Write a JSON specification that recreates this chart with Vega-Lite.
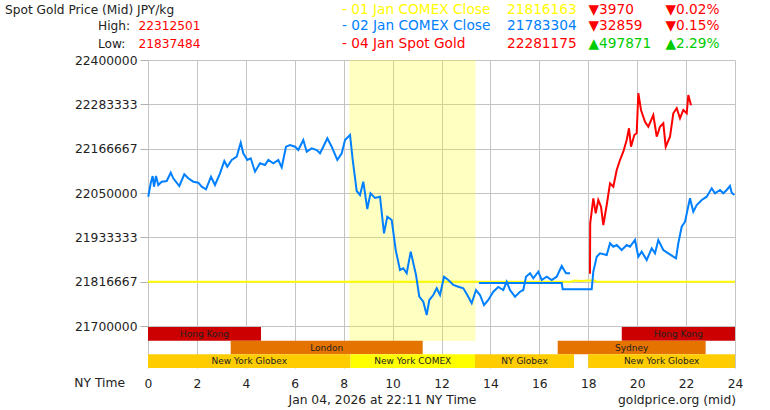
{
  "$schema": "https://vega.github.io/schema/vega-lite/v6.json",
  "width": 587,
  "height": 308,
  "autosize": {"type": "none"},
  "padding": {"left": 148, "top": 60, "right": 35, "bottom": 42},
  "background": "white",
  "datasets": {
    "prices": [
      {"series": "01 Jan COMEX Close", "hour": 0, "price": 21816163},
      {"series": "01 Jan COMEX Close", "hour": 17.3, "price": 21816163},
      {"series": "01 Jan COMEX Close", "hour": 17.45, "price": 21819500},
      {"series": "01 Jan COMEX Close", "hour": 17.7, "price": 21818500},
      {"series": "01 Jan COMEX Close", "hour": 18.0, "price": 21820000},
      {"series": "01 Jan COMEX Close", "hour": 18.25, "price": 21819500},
      {"series": "01 Jan COMEX Close", "hour": 18.35, "price": 21816163},
      {"series": "01 Jan COMEX Close", "hour": 24, "price": 21816163},

      {"series": "02 Jan COMEX Close", "hour": 0.01, "price": 22040260},
      {"series": "02 Jan COMEX Close", "hour": 0.11, "price": 22075524},
      {"series": "02 Jan COMEX Close", "hour": 0.19, "price": 22094734},
      {"series": "02 Jan COMEX Close", "hour": 0.245, "price": 22066576},
      {"series": "02 Jan COMEX Close", "hour": 0.327, "price": 22094734},
      {"series": "02 Jan COMEX Close", "hour": 0.42, "price": 22071050},
      {"series": "02 Jan COMEX Close", "hour": 0.56, "price": 22079734},
      {"series": "02 Jan COMEX Close", "hour": 0.765, "price": 22081576},
      {"series": "02 Jan COMEX Close", "hour": 0.93, "price": 22103419},
      {"series": "02 Jan COMEX Close", "hour": 1.034, "price": 22088682},
      {"series": "02 Jan COMEX Close", "hour": 1.28, "price": 22068418},
      {"series": "02 Jan COMEX Close", "hour": 1.484, "price": 22099208},
      {"series": "02 Jan COMEX Close", "hour": 1.648, "price": 22088682},
      {"series": "02 Jan COMEX Close", "hour": 1.852, "price": 22079734},
      {"series": "02 Jan COMEX Close", "hour": 2.057, "price": 22077103},
      {"series": "02 Jan COMEX Close", "hour": 2.196, "price": 22066576},
      {"series": "02 Jan COMEX Close", "hour": 2.371, "price": 22059734},
      {"series": "02 Jan COMEX Close", "hour": 2.576, "price": 22092892},
      {"series": "02 Jan COMEX Close", "hour": 2.739, "price": 22071050},
      {"series": "02 Jan COMEX Close", "hour": 2.944, "price": 22101840},
      {"series": "02 Jan COMEX Close", "hour": 3.12, "price": 22134208},
      {"series": "02 Jan COMEX Close", "hour": 3.242, "price": 22119208},
      {"series": "02 Jan COMEX Close", "hour": 3.422, "price": 22136840},
      {"series": "02 Jan COMEX Close", "hour": 3.627, "price": 22145524},
      {"series": "02 Jan COMEX Close", "hour": 3.79, "price": 22182367},
      {"series": "02 Jan COMEX Close", "hour": 3.896, "price": 22154472},
      {"series": "02 Jan COMEX Close", "hour": 4.06, "price": 22136840},
      {"series": "02 Jan COMEX Close", "hour": 4.2, "price": 22141314},
      {"series": "02 Jan COMEX Close", "hour": 4.375, "price": 22106050},
      {"series": "02 Jan COMEX Close", "hour": 4.579, "price": 22128156},
      {"series": "02 Jan COMEX Close", "hour": 4.784, "price": 22123682},
      {"series": "02 Jan COMEX Close", "hour": 4.919, "price": 22136840},
      {"series": "02 Jan COMEX Close", "hour": 5.123, "price": 22128156},
      {"series": "02 Jan COMEX Close", "hour": 5.328, "price": 22136840},
      {"series": "02 Jan COMEX Close", "hour": 5.467, "price": 22117629},
      {"series": "02 Jan COMEX Close", "hour": 5.642, "price": 22171840},
      {"series": "02 Jan COMEX Close", "hour": 5.806, "price": 22176314},
      {"series": "02 Jan COMEX Close", "hour": 6.01, "price": 22171840},
      {"series": "02 Jan COMEX Close", "hour": 6.145, "price": 22163156},
      {"series": "02 Jan COMEX Close", "hour": 6.35, "price": 22189472},
      {"series": "02 Jan COMEX Close", "hour": 6.489, "price": 22158682},
      {"series": "02 Jan COMEX Close", "hour": 6.693, "price": 22167630},
      {"series": "02 Jan COMEX Close", "hour": 6.898, "price": 22163156},
      {"series": "02 Jan COMEX Close", "hour": 7.033, "price": 22154472},
      {"series": "02 Jan COMEX Close", "hour": 7.168, "price": 22171840},
      {"series": "02 Jan COMEX Close", "hour": 7.331, "price": 22193946},
      {"series": "02 Jan COMEX Close", "hour": 7.511, "price": 22171840},
      {"series": "02 Jan COMEX Close", "hour": 7.74, "price": 22136840},
      {"series": "02 Jan COMEX Close", "hour": 7.92, "price": 22154472},
      {"series": "02 Jan COMEX Close", "hour": 8.055, "price": 22189472},
      {"series": "02 Jan COMEX Close", "hour": 8.26, "price": 22202630},
      {"series": "02 Jan COMEX Close", "hour": 8.37, "price": 22136840},
      {"series": "02 Jan COMEX Close", "hour": 8.533, "price": 22055260},
      {"series": "02 Jan COMEX Close", "hour": 8.668, "price": 22044734},
      {"series": "02 Jan COMEX Close", "hour": 8.803, "price": 22079734},
      {"series": "02 Jan COMEX Close", "hour": 8.966, "price": 22007892},
      {"series": "02 Jan COMEX Close", "hour": 9.097, "price": 22049208},
      {"series": "02 Jan COMEX Close", "hour": 9.281, "price": 22036839},
      {"series": "02 Jan COMEX Close", "hour": 9.486, "price": 22040260},
      {"series": "02 Jan COMEX Close", "hour": 9.649, "price": 21943944},
      {"series": "02 Jan COMEX Close", "hour": 9.784, "price": 21987628},
      {"series": "02 Jan COMEX Close", "hour": 9.964, "price": 21978944},
      {"series": "02 Jan COMEX Close", "hour": 10.128, "price": 21899996},
      {"series": "02 Jan COMEX Close", "hour": 10.303, "price": 21847364},
      {"series": "02 Jan COMEX Close", "hour": 10.438, "price": 21851838},
      {"series": "02 Jan COMEX Close", "hour": 10.577, "price": 21838680},
      {"series": "02 Jan COMEX Close", "hour": 10.741, "price": 21895522},
      {"series": "02 Jan COMEX Close", "hour": 10.958, "price": 21834206},
      {"series": "02 Jan COMEX Close", "hour": 11.092, "price": 21777100},
      {"series": "02 Jan COMEX Close", "hour": 11.256, "price": 21763942},
      {"series": "02 Jan COMEX Close", "hour": 11.395, "price": 21728942},
      {"series": "02 Jan COMEX Close", "hour": 11.501, "price": 21768416},
      {"series": "02 Jan COMEX Close", "hour": 11.665, "price": 21781574},
      {"series": "02 Jan COMEX Close", "hour": 11.804, "price": 21799206},
      {"series": "02 Jan COMEX Close", "hour": 11.939, "price": 21781574},
      {"series": "02 Jan COMEX Close", "hour": 12.102, "price": 21829732},
      {"series": "02 Jan COMEX Close", "hour": 12.278, "price": 21821048},
      {"series": "02 Jan COMEX Close", "hour": 12.483, "price": 21807890},
      {"series": "02 Jan COMEX Close", "hour": 12.687, "price": 21803416},
      {"series": "02 Jan COMEX Close", "hour": 12.892, "price": 21799206},
      {"series": "02 Jan COMEX Close", "hour": 13.055, "price": 21781574},
      {"series": "02 Jan COMEX Close", "hour": 13.235, "price": 21759732},
      {"series": "02 Jan COMEX Close", "hour": 13.411, "price": 21794732},
      {"series": "02 Jan COMEX Close", "hour": 13.574, "price": 21781574},
      {"series": "02 Jan COMEX Close", "hour": 13.738, "price": 21755258},
      {"series": "02 Jan COMEX Close", "hour": 13.914, "price": 21768416},
      {"series": "02 Jan COMEX Close", "hour": 14.118, "price": 21790258},
      {"series": "02 Jan COMEX Close", "hour": 14.323, "price": 21802627},
      {"series": "02 Jan COMEX Close", "hour": 14.527, "price": 21794732},
      {"series": "02 Jan COMEX Close", "hour": 14.666, "price": 21816574},
      {"series": "02 Jan COMEX Close", "hour": 14.801, "price": 21794732},
      {"series": "02 Jan COMEX Close", "hour": 15.006, "price": 21777100},
      {"series": "02 Jan COMEX Close", "hour": 15.21, "price": 21790258},
      {"series": "02 Jan COMEX Close", "hour": 15.345, "price": 21794732},
      {"series": "02 Jan COMEX Close", "hour": 15.455, "price": 21829732},
      {"series": "02 Jan COMEX Close", "hour": 15.619, "price": 21838680},
      {"series": "02 Jan COMEX Close", "hour": 15.754, "price": 21825522},
      {"series": "02 Jan COMEX Close", "hour": 15.958, "price": 21842890},
      {"series": "02 Jan COMEX Close", "hour": 16.097, "price": 21821048},
      {"series": "02 Jan COMEX Close", "hour": 16.301, "price": 21829732},
      {"series": "02 Jan COMEX Close", "hour": 16.506, "price": 21821048},
      {"series": "02 Jan COMEX Close", "hour": 16.71, "price": 21829732},
      {"series": "02 Jan COMEX Close", "hour": 16.915, "price": 21857890},
      {"series": "02 Jan COMEX Close", "hour": 17.09, "price": 21838680},
      {"series": "02 Jan COMEX Close", "hour": 17.254, "price": 21838680},

      {"series": "02 Jan overnight", "hour": 13.53, "price": 21813153},
      {"series": "02 Jan overnight", "hour": 16.915, "price": 21813153},
      {"series": "02 Jan overnight", "hour": 16.956, "price": 21796574},
      {"series": "02 Jan overnight", "hour": 18.141, "price": 21796574},
      {"series": "02 Jan overnight", "hour": 18.207, "price": 21842890},
      {"series": "02 Jan overnight", "hour": 18.346, "price": 21882364},
      {"series": "02 Jan overnight", "hour": 18.481, "price": 21891312},
      {"series": "02 Jan overnight", "hour": 18.755, "price": 21886838},
      {"series": "02 Jan overnight", "hour": 18.89, "price": 21917628},
      {"series": "02 Jan overnight", "hour": 19.025, "price": 21908680},
      {"series": "02 Jan overnight", "hour": 19.164, "price": 21913154},
      {"series": "02 Jan overnight", "hour": 19.368, "price": 21899996},
      {"series": "02 Jan overnight", "hour": 19.573, "price": 21913154},
      {"series": "02 Jan overnight", "hour": 19.707, "price": 21908680},
      {"series": "02 Jan overnight", "hour": 19.912, "price": 21926312},
      {"series": "02 Jan overnight", "hour": 20.047, "price": 21882364},
      {"series": "02 Jan overnight", "hour": 20.186, "price": 21895522},
      {"series": "02 Jan overnight", "hour": 20.39, "price": 21873680},
      {"series": "02 Jan overnight", "hour": 20.595, "price": 21904470},
      {"series": "02 Jan overnight", "hour": 20.73, "price": 21891312},
      {"series": "02 Jan overnight", "hour": 20.865, "price": 21926312},
      {"series": "02 Jan overnight", "hour": 21.069, "price": 21899996},
      {"series": "02 Jan overnight", "hour": 21.273, "price": 21891312},
      {"series": "02 Jan overnight", "hour": 21.478, "price": 21882364},
      {"series": "02 Jan overnight", "hour": 21.588, "price": 21878154},
      {"series": "02 Jan overnight", "hour": 21.682, "price": 21917628},
      {"series": "02 Jan overnight", "hour": 21.821, "price": 21961312},
      {"series": "02 Jan overnight", "hour": 21.956, "price": 21974470},
      {"series": "02 Jan overnight", "hour": 22.16, "price": 22036050},
      {"series": "02 Jan overnight", "hour": 22.295, "price": 22000786},
      {"series": "02 Jan overnight", "hour": 22.434, "price": 22018418},
      {"series": "02 Jan overnight", "hour": 22.639, "price": 22031576},
      {"series": "02 Jan overnight", "hour": 22.843, "price": 22040260},
      {"series": "02 Jan overnight", "hour": 23.048, "price": 22062366},
      {"series": "02 Jan overnight", "hour": 23.183, "price": 22049208},
      {"series": "02 Jan overnight", "hour": 23.387, "price": 22057892},
      {"series": "02 Jan overnight", "hour": 23.522, "price": 22049208},
      {"series": "02 Jan overnight", "hour": 23.661, "price": 22057892},
      {"series": "02 Jan overnight", "hour": 23.796, "price": 22068418},
      {"series": "02 Jan overnight", "hour": 23.865, "price": 22050787},
      {"series": "02 Jan overnight", "hour": 23.972, "price": 22044734},

      {"series": "04 Jan Spot Gold", "hour": 18.07, "price": 21837484},
      {"series": "04 Jan Spot Gold", "hour": 18.08, "price": 21970260},
      {"series": "04 Jan Spot Gold", "hour": 18.207, "price": 22036050},
      {"series": "04 Jan Spot Gold", "hour": 18.305, "price": 21996576},
      {"series": "04 Jan Spot Gold", "hour": 18.411, "price": 22031576},
      {"series": "04 Jan Spot Gold", "hour": 18.522, "price": 22013944},
      {"series": "04 Jan Spot Gold", "hour": 18.616, "price": 21965786},
      {"series": "04 Jan Spot Gold", "hour": 18.755, "price": 22018418},
      {"series": "04 Jan Spot Gold", "hour": 18.89, "price": 22075524},
      {"series": "04 Jan Spot Gold", "hour": 19.025, "price": 22066576},
      {"series": "04 Jan Spot Gold", "hour": 19.164, "price": 22110524},
      {"series": "04 Jan Spot Gold", "hour": 19.298, "price": 22136840},
      {"series": "04 Jan Spot Gold", "hour": 19.433, "price": 22158682},
      {"series": "04 Jan Spot Gold", "hour": 19.572, "price": 22189472},
      {"series": "04 Jan Spot Gold", "hour": 19.666, "price": 22220262},
      {"series": "04 Jan Spot Gold", "hour": 19.748, "price": 22171840},
      {"series": "04 Jan Spot Gold", "hour": 19.883, "price": 22202630},
      {"series": "04 Jan Spot Gold", "hour": 19.981, "price": 22207104},
      {"series": "04 Jan Spot Gold", "hour": 20.047, "price": 22312501},
      {"series": "04 Jan Spot Gold", "hour": 20.157, "price": 22268420},
      {"series": "04 Jan Spot Gold", "hour": 20.321, "price": 22237630},
      {"series": "04 Jan Spot Gold", "hour": 20.456, "price": 22224472},
      {"series": "04 Jan Spot Gold", "hour": 20.66, "price": 22255262},
      {"series": "04 Jan Spot Gold", "hour": 20.799, "price": 22198156},
      {"series": "04 Jan Spot Gold", "hour": 20.934, "price": 22224472},
      {"series": "04 Jan Spot Gold", "hour": 21.069, "price": 22233420},
      {"series": "04 Jan Spot Gold", "hour": 21.167, "price": 22171840},
      {"series": "04 Jan Spot Gold", "hour": 21.343, "price": 22198156},
      {"series": "04 Jan Spot Gold", "hour": 21.478, "price": 22259736},
      {"series": "04 Jan Spot Gold", "hour": 21.617, "price": 22272894},
      {"series": "04 Jan Spot Gold", "hour": 21.752, "price": 22246578},
      {"series": "04 Jan Spot Gold", "hour": 21.887, "price": 22268420},
      {"series": "04 Jan Spot Gold", "hour": 22.026, "price": 22259736},
      {"series": "04 Jan Spot Gold", "hour": 22.091, "price": 22307894},
      {"series": "04 Jan Spot Gold", "hour": 22.201, "price": 22281175}
    ],
    "sessions": [
      {"market": "Hong Kong", "lane": "Hong Kong", "open": 0, "close": 4.62},
      {"market": "Hong Kong", "lane": "Hong Kong", "open": 19.37, "close": 24},
      {"market": "London", "lane": "London / Sydney", "open": 3.38, "close": 11.23},
      {"market": "Sydney", "lane": "London / Sydney", "open": 16.75, "close": 22.8},
      {"market": "New York Globex", "lane": "New York", "open": 0, "close": 8.28},
      {"market": "New York COMEX", "lane": "New York", "open": 8.28, "close": 13.37},
      {"market": "NY Globex", "lane": "New York", "open": 13.37, "close": 17.42},
      {"market": "New York Globex", "lane": "New York", "open": 18, "close": 24}
    ],
    "comex": [{"from": 8.23, "to": 13.39}],
    "summary": [
      {"series": "01 Jan COMEX Close", "rank": 1, "close": 21816163, "change": "▼3970", "pct": "▼0.02%", "trend": "down"},
      {"series": "02 Jan COMEX Close", "rank": 2, "close": 21783304, "change": "▼32859", "pct": "▼0.15%", "trend": "down"},
      {"series": "04 Jan Spot Gold", "rank": 3, "close": 22281175, "change": "▲497871", "pct": "▲2.29%", "trend": "up"}
    ],
    "extremes": [
      {"stat": "High:", "rank": 2, "price": 22312501},
      {"stat": "Low:", "rank": 3, "price": 21837484}
    ],
    "captions": [
      {"role": "title", "text": "Spot Gold Price (Mid) JPY/kg"},
      {"role": "axis", "text": "NY Time"},
      {"role": "stamp", "text": "Jan 04, 2026 at 22:11 NY Time"},
      {"role": "source", "text": "goldprice.org (mid)"}
    ]
  },
  "layer": [
    {
      "layer": [
        {
          "layer": [
            {
              "data": {"name": "comex"},
              "mark": {"type": "rect", "color": "#ffff00", "opacity": 0.24},
              "encoding": {
                "x": {"field": "from", "type": "quantitative", "scale": {"domain": [0, 24], "nice": false, "zero": false}},
                "x2": {"field": "to"},
                "y": {"datum": 22400000, "type": "quantitative", "scale": {"domain": [21589474, 22400000], "nice": false, "zero": false}},
                "y2": {"datum": 21660500}
              }
            },
            {
              "data": {"name": "prices"},
              "transform": [{"filter": "datum.series === '01 Jan COMEX Close'"}],
              "mark": {"type": "line", "color": "#ffff00", "strokeWidth": 2},
              "encoding": {
                "x": {
                  "field": "hour",
                  "type": "quantitative",
                  "scale": {"domain": [0, 24], "nice": false, "zero": false},
                  "axis": {
                    "title": null,
                    "values": [0, 2, 4, 6, 8, 10, 12, 14, 16, 18, 20, 22, 24],
                    "format": "d",
                    "grid": true,
                    "ticks": false,
                    "tickSize": 0,
                    "domain": false,
                    "labelPadding": 19.3,
                    "labelBaseline": "alphabetic",
                    "labelFlush": false,
                    "labelOverlap": false,
                    "labelBound": false
                  }
                },
                "y": {
                  "field": "price",
                  "type": "quantitative",
                  "scale": {"domain": [21589474, 22400000], "nice": false, "zero": false},
                  "axis": {
                    "title": null,
                    "values": [21700000, 21816667, 21933333, 22050000, 22166667, 22283333, 22400000],
                    "format": "d",
                    "grid": true,
                    "ticks": true,
                    "tickSize": 8,
                    "tickColor": "#b0b0b0",
                    "domain": false,
                    "labelPadding": 3,
                    "labelFlush": false,
                    "labelOverlap": false,
                    "labelBound": false
                  }
                }
              }
            },
            {
              "data": {"name": "prices"},
              "transform": [{"filter": "datum.series === '02 Jan COMEX Close' || datum.series === '02 Jan overnight'"}],
              "mark": {"type": "line", "color": "#0080ff", "strokeWidth": 2},
              "encoding": {
                "x": {"field": "hour", "type": "quantitative"},
                "y": {"field": "price", "type": "quantitative"},
                "detail": {"field": "series"}
              }
            },
            {
              "data": {"name": "prices"},
              "transform": [{"filter": "datum.series === '04 Jan Spot Gold'"}],
              "mark": {"type": "line", "color": "#ff0000", "strokeWidth": 2},
              "encoding": {
                "x": {"field": "hour", "type": "quantitative"},
                "y": {"field": "price", "type": "quantitative"}
              }
            }
          ]
        },
        {
          "data": {"name": "sessions"},
          "encoding": {
            "y": {
              "field": "lane",
              "type": "nominal",
              "scale": {"type": "band", "domain": ["Hong Kong", "London / Sydney", "New York"], "range": [267, 308], "paddingInner": 0, "paddingOuter": 0},
              "axis": null
            }
          },
          "layer": [
            {
              "mark": {"type": "rect"},
              "encoding": {
                "x": {"field": "open", "type": "quantitative"},
                "x2": {"field": "close"},
                "color": {
                  "field": "market",
                  "type": "nominal",
                  "scale": {
                    "domain": ["Hong Kong", "London", "Sydney", "New York Globex", "New York COMEX", "NY Globex"],
                    "range": ["#cc0000", "#e57300", "#e57300", "#ffcc00", "#ffff00", "#ffcc00"]
                  },
                  "legend": null
                }
              }
            },
            {
              "transform": [{"calculate": "(datum.open + datum.close) / 2", "as": "mid"}],
              "mark": {"type": "text", "fontSize": 9, "color": "#222222", "baseline": "middle", "font": "DejaVu Sans"},
              "encoding": {
                "x": {"field": "mid", "type": "quantitative"},
                "text": {"field": "market"}
              }
            }
          ]
        }
      ],
      "resolve": {"scale": {"y": "independent"}}
    },
    {
      "layer": [
        {
          "data": {"name": "summary"},
          "transform": [{"calculate": "'- ' + datum.series", "as": "label"}],
          "mark": {"type": "text", "align": "left", "baseline": "alphabetic", "fontSize": 13.7, "font": "DejaVu Sans"},
          "encoding": {
            "x": {"datum": 6, "type": "quantitative", "axis": null, "scale": {"domain": [1, 2, 3, 4, 5, 6, 7, 8, 9, 10], "range": [-143, -50, -23, -9.5, 140.5, 194, 359, 440.5, 517.4, 588], "nice": false, "zero": false}},
            "y": {"field": "rank", "type": "quantitative", "axis": null, "scale": {"domain": [1, 2, 3, 4, 5], "range": [-46.3, -30, -12, 327.3, 343.5], "nice": false, "zero": false}},
            "text": {"field": "label"},
            "color": {"field": "series", "type": "nominal", "scale": {"domain": ["01 Jan COMEX Close", "02 Jan COMEX Close", "04 Jan Spot Gold"], "range": ["#ffff00", "#0080ff", "#ff0000"]}, "legend": null}
          }
        },
        {
          "data": {"name": "summary"},
          "mark": {"type": "text", "align": "left", "baseline": "alphabetic", "fontSize": 13.7, "font": "DejaVu Sans"},
          "encoding": {
            "x": {"datum": 7, "type": "quantitative", "axis": null, "scale": {"domain": [1, 2, 3, 4, 5, 6, 7, 8, 9, 10], "range": [-143, -50, -23, -9.5, 140.5, 194, 359, 440.5, 517.4, 588], "nice": false, "zero": false}},
            "y": {"field": "rank", "type": "quantitative", "axis": null, "scale": {"domain": [1, 2, 3, 4, 5], "range": [-46.3, -30, -12, 327.3, 343.5], "nice": false, "zero": false}},
            "text": {"field": "close", "type": "quantitative", "format": "d"},
            "color": {"field": "series", "type": "nominal", "scale": {"domain": ["01 Jan COMEX Close", "02 Jan COMEX Close", "04 Jan Spot Gold"], "range": ["#ffff00", "#0080ff", "#ff0000"]}, "legend": null}
          }
        },
        {
          "data": {"name": "summary"},
          "mark": {"type": "text", "align": "left", "baseline": "alphabetic", "fontSize": 13.7, "font": "DejaVu Sans"},
          "encoding": {
            "x": {"datum": 8, "type": "quantitative", "axis": null, "scale": {"domain": [1, 2, 3, 4, 5, 6, 7, 8, 9, 10], "range": [-143, -50, -23, -9.5, 140.5, 194, 359, 440.5, 517.4, 588], "nice": false, "zero": false}},
            "y": {"field": "rank", "type": "quantitative", "axis": null, "scale": {"domain": [1, 2, 3, 4, 5], "range": [-46.3, -30, -12, 327.3, 343.5], "nice": false, "zero": false}},
            "text": {"field": "change"},
            "color": {"field": "trend", "type": "nominal", "scale": {"domain": ["down", "up"], "range": ["#ff0000", "#00cc00"]}, "legend": null}
          }
        },
        {
          "data": {"name": "summary"},
          "mark": {"type": "text", "align": "left", "baseline": "alphabetic", "fontSize": 13.7, "font": "DejaVu Sans"},
          "encoding": {
            "x": {"datum": 9, "type": "quantitative", "axis": null, "scale": {"domain": [1, 2, 3, 4, 5, 6, 7, 8, 9, 10], "range": [-143, -50, -23, -9.5, 140.5, 194, 359, 440.5, 517.4, 588], "nice": false, "zero": false}},
            "y": {"field": "rank", "type": "quantitative", "axis": null, "scale": {"domain": [1, 2, 3, 4, 5], "range": [-46.3, -30, -12, 327.3, 343.5], "nice": false, "zero": false}},
            "text": {"field": "pct"},
            "color": {"field": "trend", "type": "nominal", "scale": {"domain": ["down", "up"], "range": ["#ff0000", "#00cc00"]}, "legend": null}
          }
        },
        {
          "data": {"name": "extremes"},
          "mark": {"type": "text", "align": "left", "baseline": "alphabetic", "fontSize": 12.2, "font": "DejaVu Sans", "color": "#222222"},
          "encoding": {
            "x": {"datum": 2, "type": "quantitative", "axis": null, "scale": {"domain": [1, 2, 3, 4, 5, 6, 7, 8, 9, 10], "range": [-143, -50, -23, -9.5, 140.5, 194, 359, 440.5, 517.4, 588], "nice": false, "zero": false}},
            "y": {"field": "rank", "type": "quantitative", "axis": null, "scale": {"domain": [1, 2, 3, 4, 5], "range": [-46.3, -30, -12, 327.3, 343.5], "nice": false, "zero": false}},
            "text": {"field": "stat"}
          }
        },
        {
          "data": {"name": "extremes"},
          "mark": {"type": "text", "align": "left", "baseline": "alphabetic", "fontSize": 12.2, "font": "DejaVu Sans", "color": "#ff0000"},
          "encoding": {
            "x": {"datum": 4, "type": "quantitative", "axis": null, "scale": {"domain": [1, 2, 3, 4, 5, 6, 7, 8, 9, 10], "range": [-143, -50, -23, -9.5, 140.5, 194, 359, 440.5, 517.4, 588], "nice": false, "zero": false}},
            "y": {"field": "rank", "type": "quantitative", "axis": null, "scale": {"domain": [1, 2, 3, 4, 5], "range": [-46.3, -30, -12, 327.3, 343.5], "nice": false, "zero": false}},
            "text": {"field": "price", "type": "quantitative", "format": "d"}
          }
        },
        {
          "data": {"name": "captions"},
          "transform": [{"filter": "datum.role === 'title'"}],
          "mark": {"type": "text", "align": "left", "baseline": "alphabetic", "fontSize": 12.2, "font": "DejaVu Sans", "color": "#222222"},
          "encoding": {
            "x": {"datum": 1, "type": "quantitative", "axis": null, "scale": {"domain": [1, 2, 3, 4, 5, 6, 7, 8, 9, 10], "range": [-143, -50, -23, -9.5, 140.5, 194, 359, 440.5, 517.4, 588], "nice": false, "zero": false}},
            "y": {"datum": 1, "type": "quantitative", "axis": null, "scale": {"domain": [1, 2, 3, 4, 5], "range": [-46.3, -30, -12, 327.3, 343.5], "nice": false, "zero": false}},
            "text": {"field": "text"}
          }
        },
        {
          "data": {"name": "captions"},
          "transform": [{"filter": "datum.role === 'axis'"}],
          "mark": {"type": "text", "align": "right", "baseline": "alphabetic", "fontSize": 12.3, "font": "DejaVu Sans", "color": "#222222"},
          "encoding": {
            "x": {"datum": 3, "type": "quantitative", "axis": null, "scale": {"domain": [1, 2, 3, 4, 5, 6, 7, 8, 9, 10], "range": [-143, -50, -23, -9.5, 140.5, 194, 359, 440.5, 517.4, 588], "nice": false, "zero": false}},
            "y": {"datum": 4, "type": "quantitative", "axis": null, "scale": {"domain": [1, 2, 3, 4, 5], "range": [-46.3, -30, -12, 327.3, 343.5], "nice": false, "zero": false}},
            "text": {"field": "text"}
          }
        },
        {
          "data": {"name": "captions"},
          "transform": [{"filter": "datum.role === 'stamp'"}],
          "mark": {"type": "text", "align": "left", "baseline": "alphabetic", "fontSize": 12.3, "font": "DejaVu Sans", "color": "#222222"},
          "encoding": {
            "x": {"datum": 5, "type": "quantitative", "axis": null, "scale": {"domain": [1, 2, 3, 4, 5, 6, 7, 8, 9, 10], "range": [-143, -50, -23, -9.5, 140.5, 194, 359, 440.5, 517.4, 588], "nice": false, "zero": false}},
            "y": {"datum": 5, "type": "quantitative", "axis": null, "scale": {"domain": [1, 2, 3, 4, 5], "range": [-46.3, -30, -12, 327.3, 343.5], "nice": false, "zero": false}},
            "text": {"field": "text"}
          }
        },
        {
          "data": {"name": "captions"},
          "transform": [{"filter": "datum.role === 'source'"}],
          "mark": {"type": "text", "align": "right", "baseline": "alphabetic", "fontSize": 12.3, "font": "DejaVu Sans", "color": "#222222"},
          "encoding": {
            "x": {"datum": 10, "type": "quantitative", "axis": null, "scale": {"domain": [1, 2, 3, 4, 5, 6, 7, 8, 9, 10], "range": [-143, -50, -23, -9.5, 140.5, 194, 359, 440.5, 517.4, 588], "nice": false, "zero": false}},
            "y": {"datum": 5, "type": "quantitative", "axis": null, "scale": {"domain": [1, 2, 3, 4, 5], "range": [-46.3, -30, -12, 327.3, 343.5], "nice": false, "zero": false}},
            "text": {"field": "text"}
          }
        }
      ],
      "resolve": {"scale": {"color": "independent"}}
    }
  ],
  "resolve": {"scale": {"x": "independent", "y": "independent", "color": "independent"}},
  "config": {
    "view": {"stroke": null},
    "font": "DejaVu Sans",
    "axis": {
      "labelFont": "DejaVu Sans",
      "labelFontSize": 12.3,
      "labelColor": "#222222",
      "gridColor": "#c4c4c4",
      "gridWidth": 1
    }
  }
}
